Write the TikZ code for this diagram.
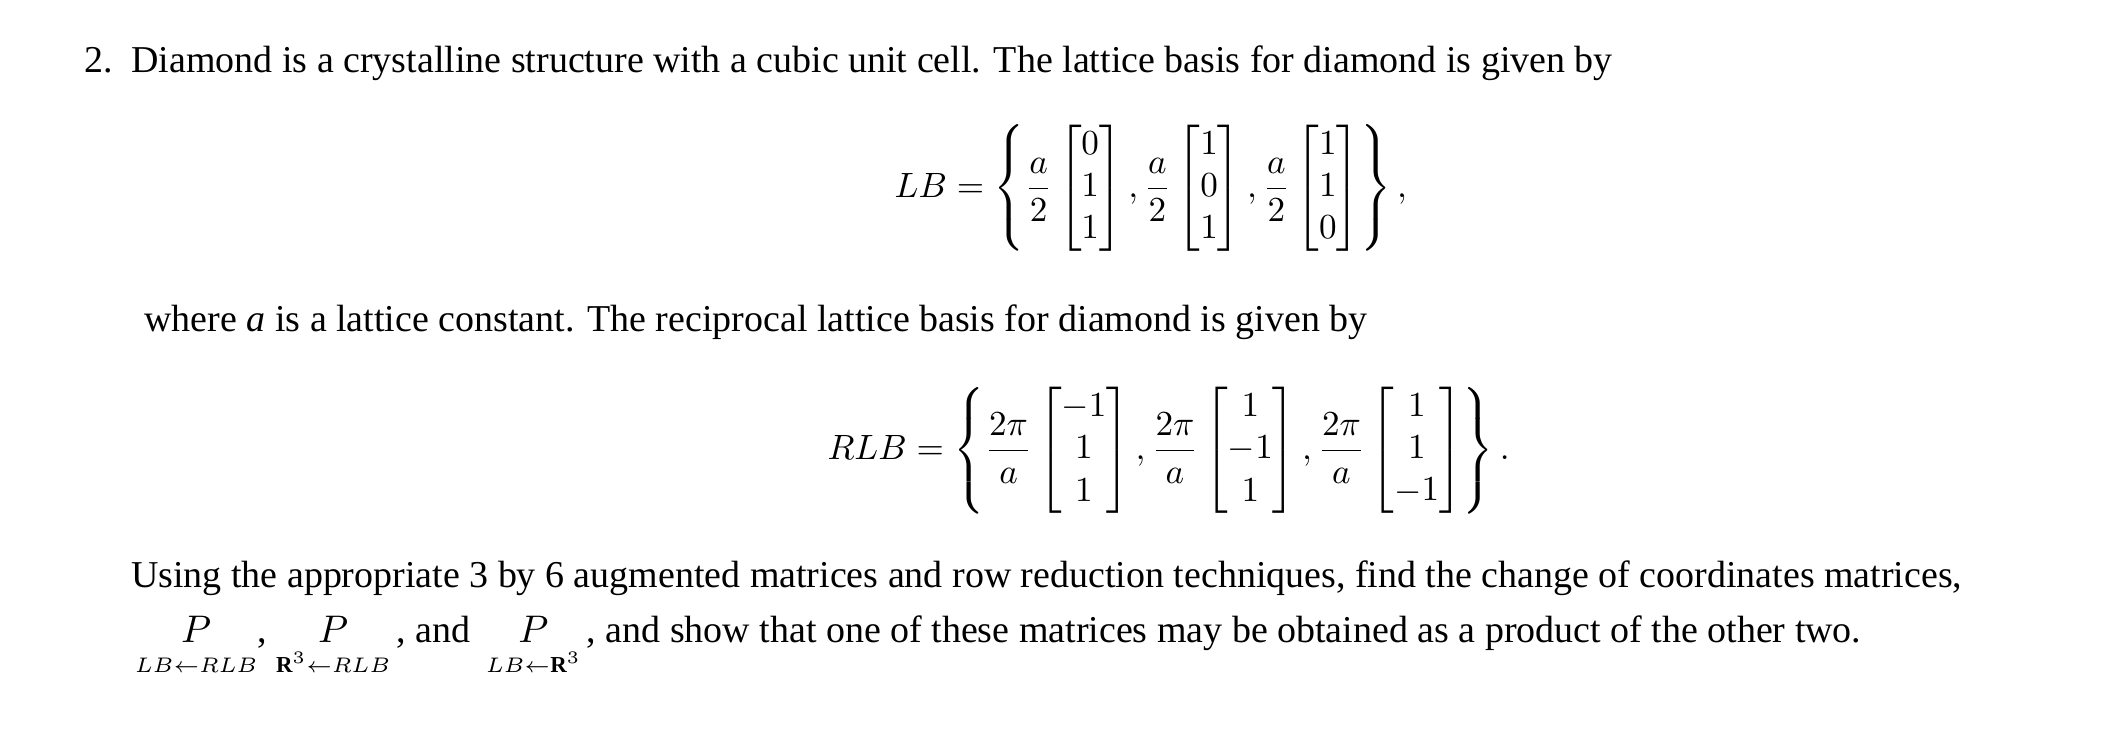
\documentclass[tikz,border=0pt]{standalone}
\usepackage{amsmath}
\usepackage{fontspec}
\setmainfont{Liberation Serif}
\newcommand{\subP}[1]{\underset{\raisebox{-2pt}{\fontsize{6.5}{8}\selectfont$#1$}}{P}}
\begin{document}
\begin{tikzpicture}[x=0.01344cm,y=-0.01344cm,
  txt/.style={anchor=west,inner sep=0pt,font=\fontsize{10.8}{13}\selectfont},
  eq/.style={anchor=west,inner sep=0pt,font=\fontsize{10}{12}\selectfont}]
\useasboundingbox (0,0) rectangle (1568,561);
\node[txt] (l1) at (62,47) {2.\ \ Diamond is a crystalline structure with a cubic unit cell. The lattice basis for diamond is given by};
\node[eq] (lb) at (665,140) {$\displaystyle LB=\left\{\frac{a}{2}\begin{bmatrix}0\\1\\1\end{bmatrix},\frac{a}{2}\begin{bmatrix}1\\0\\1\end{bmatrix},\frac{a}{2}\begin{bmatrix}1\\1\\0\end{bmatrix}\right\},$};
\node[txt] (l2) at (107,240) {where \textit{a} is a lattice constant. The reciprocal lattice basis for diamond is given by};
\node[eq] (rlb) at (615,335) {$\displaystyle RLB=\left\{\frac{2\pi}{a}\begin{bmatrix}-1\\1\\1\end{bmatrix},\frac{2\pi}{a}\begin{bmatrix}1\\-1\\1\end{bmatrix},\frac{2\pi}{a}\begin{bmatrix}1\\1\\-1\end{bmatrix}\right\}.$};
\node[txt] (l3) at (97,430) {Using the appropriate 3 by 6 augmented matrices and row reduction techniques, find the change of coordinates matrices,};
\node[txt,anchor=base west] (l4) at (100,478) {$\subP{LB{\leftarrow}RLB}$,\ $\subP{\mathbf{R}^3{\leftarrow}RLB}$\,, and\ \,$\subP{LB{\leftarrow}\mathbf{R}^3}$\,, and show that one of these matrices may be obtained as a product of the other two.};
\end{tikzpicture}
\end{document}
